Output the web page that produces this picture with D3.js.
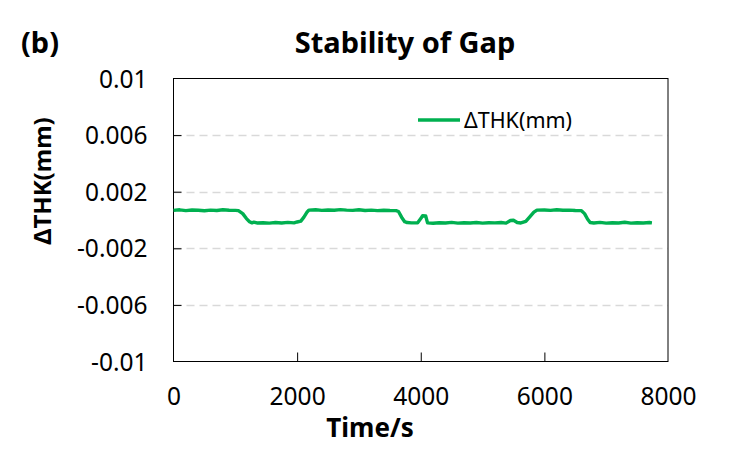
<!DOCTYPE html>
<html>
<head>
<meta charset="utf-8">
<script src="https://cdn.jsdelivr.net/npm/d3@7"></script>
<style>
  body { margin: 0; background: #fff; }
  svg { display: block; font-family: "Noto Sans", "Open Sans", sans-serif; }
</style>
</head>
<body>
<svg id="chart" width="751" height="451"></svg>
<script>
// Time (s) and thickness deviation (mm).
const times = [
  0, 100, 200, 300, 400, 500, 600, 700, 800, 900, 1000, 1050, 1120, 1180, 1230,
  1270, 1300, 1350, 1450, 1550, 1650, 1750, 1850, 1950, 2000, 2060, 2110, 2160,
  2190, 2300, 2400, 2500, 2600, 2700, 2800, 2900, 3000, 3100, 3200, 3300, 3400,
  3500, 3600, 3640, 3690, 3740, 3780, 3850, 3950, 4000, 4030, 4080, 4110, 4200,
  4300, 4400, 4500, 4600, 4700, 4800, 4900, 5000, 5100, 5200, 5300, 5380, 5450,
  5500, 5560, 5620, 5700, 5760, 5830, 5880, 6000, 6100, 6200, 6300, 6400, 6500,
  6600, 6650, 6700, 6740, 6800, 6900, 7000, 7100, 7200, 7300, 7400, 7500, 7600,
  7700, 7740
];
const thk = [
  0.00068, 0.00072, 0.00066, 0.00071, 0.00069, 0.00065, 0.00070, 0.00067, 0.00072, 0.00069, 0.00068, 0.00066, 0.00045, 0.00010, -0.00012,
  -0.00020, -0.00015, -0.00021, -0.00019, -0.00022, -0.00018, -0.00021, -0.00017, -0.00020, -0.00014, -0.00008, 0.00020, 0.00055,
  0.00070, 0.00072, 0.00068, 0.00071, 0.00069, 0.00073, 0.00070, 0.00068, 0.00072, 0.00067, 0.00070, 0.00066, 0.00069,
  0.00067, 0.00066, 0.00060, 0.00020, -0.00012, -0.00018, -0.00020, -0.00019, 0.00010, 0.00030, 0.00028, -0.00020, -0.00023,
  -0.00019, -0.00021, -0.00017, -0.00022, -0.00019, -0.00021, -0.00018, -0.00022, -0.00019, -0.00020, -0.00018, -0.00022, -0.00004,
  -0.00002, -0.00018, -0.00021, -0.00010, 0.00020, 0.00055, 0.00070, 0.00071, 0.00068, 0.00072, 0.00069, 0.00070, 0.00067,
  0.00066, 0.00045, 0.00005, -0.00018, -0.00021, -0.00017, -0.00022, -0.00019, -0.00021, -0.00016, -0.00022, -0.00019, -0.00021,
  -0.00018, -0.00020
];

const xTicks = [0, 2000, 4000, 6000, 8000];
const yTicks = [-0.01, -0.006, -0.002, 0.002, 0.006, 0.01];
const seriesName = "ΔTHK(mm)";

const svg = d3.select("#chart");
const plot = {left: 173.5, right: 668, top: 78.5, bottom: 361.5};

const x = d3.scaleLinear().domain([0, 8000]).range([plot.left, plot.right]);
const y = d3.scaleLinear().domain([-0.01, 0.01]).range([plot.bottom, plot.top]);

// dashed horizontal gridlines (inner ticks only)
svg.append("g")
  .selectAll("line")
  .data(yTicks.filter(d => d > -0.01 && d < 0.01))
  .join("line")
    .attr("x1", plot.left).attr("x2", plot.right)
    .attr("y1", d => Math.round(y(d)) + 0.5).attr("y2", d => Math.round(y(d)) + 0.5)
    .attr("stroke", "#d9d9d9")
    .attr("stroke-width", 1.5)
    .attr("stroke-dasharray", "8,5");

// plot frame
svg.append("rect")
  .attr("x", plot.left).attr("y", plot.top)
  .attr("width", plot.right - plot.left).attr("height", plot.bottom - plot.top)
  .attr("fill", "none").attr("stroke", "#000").attr("stroke-width", 1);

// axes with inward ticks
const xAxis = svg.append("g")
  .attr("transform", `translate(0,${plot.bottom})`)
  .call(d3.axisBottom(x).tickValues(xTicks).tickSizeInner(-9).tickSizeOuter(0)
    .tickFormat(d3.format("d")));
const yAxis = svg.append("g")
  .attr("transform", `translate(${plot.left},0)`)
  .call(d3.axisLeft(y).tickValues(yTicks).tickSizeInner(-8).tickSizeOuter(0));

[xAxis, yAxis].forEach(a => {
  a.select(".domain").remove();
  a.selectAll(".tick line").attr("stroke", "#000");
  a.selectAll(".tick text")
    .attr("fill", "#000")
    .attr("font-size", 24.5)
    .attr("font-family", "'Noto Sans', sans-serif");
});
xAxis.selectAll(".tick text").attr("y", 26).attr("dy", "0.71em");
xAxis.selectAll(".tick line").filter(d => d === 0 || d === 8000).remove();
yAxis.selectAll(".tick text").attr("x", -26).attr("dy", "0.35em")
  .text(d => String(+d.toFixed(3)));
yAxis.selectAll(".tick line").filter(d => d === 0.01 || d === -0.01).remove();

// series line
const pts = times.map((t, i) => [t, thk[i]]);
svg.append("path")
  .datum(pts)
  .attr("fill", "none")
  .attr("stroke", "#00b050")
  .attr("stroke-width", 3.4)
  .attr("stroke-linejoin", "round")
  .attr("d", d3.line().x(d => x(d[0])).y(d => y(d[1])));

// legend
const lg = svg.append("g").attr("transform", "translate(418,120)");
lg.append("line").attr("x1", 0).attr("x2", 42).attr("y1", 0).attr("y2", 0)
  .attr("stroke", "#00b050").attr("stroke-width", 3.4);
lg.append("text").attr("x", 46).attr("y", 0).attr("dy", "0.35em")
  .attr("font-size", 21.5).attr("fill", "#000").text(seriesName);

// titles
svg.append("text").attr("x", 405).attr("y", 53).attr("text-anchor", "middle")
  .attr("font-size", 29).attr("font-weight", "bold").text("Stability of Gap");
svg.append("text").attr("x", 21).attr("y", 53)
  .attr("font-size", 29).attr("font-weight", "bold").text("(b)");
svg.append("text").attr("x", 370).attr("y", 437).attr("text-anchor", "middle")
  .attr("font-size", 26).attr("font-weight", "bold").text("Time/s");
svg.append("text")
  .attr("transform", "translate(51,181) rotate(-90)")
  .attr("text-anchor", "middle")
  .attr("font-size", 24).attr("font-weight", "bold").text(seriesName);
</script>
</body>
</html>
